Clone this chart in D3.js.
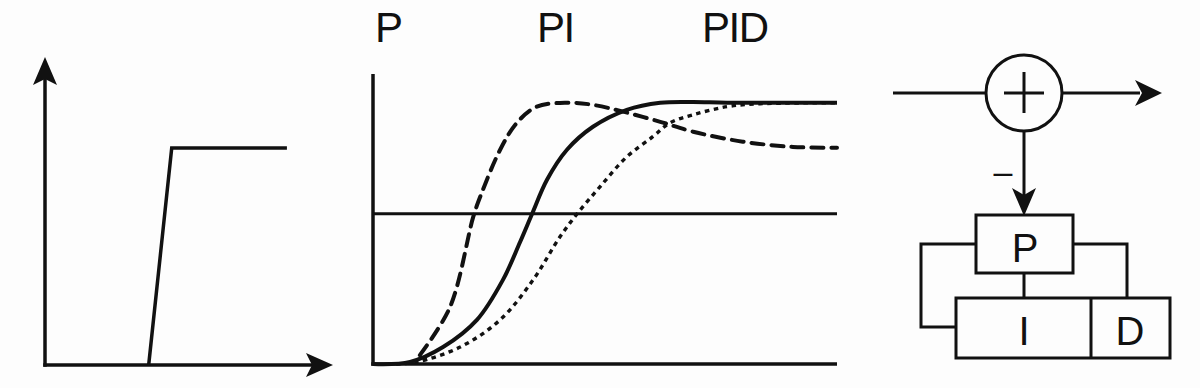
<!DOCTYPE html>
<html><head><meta charset="utf-8">
<script src="https://cdn.jsdelivr.net/npm/d3@7"></script>
<style>html,body{margin:0;padding:0;background:#fdfdfd;}svg{display:block;}</style>
</head><body>
<svg id="c" width="1200" height="388"></svg>
<script>
// ---- data ----
const stepT = [3.6, 4.4, 8.4];
const stepV = [0, 1, 1];

const pT = [1.01, 1.66, 2.16, 2.31, 2.74, 3.10, 3.53, 4.18, 4.74, 5.39, 6.19, 6.90, 7.97, 9.05, 10];
const pValues = [0.034, 0.218, 0.563, 0.640, 0.820, 0.923, 0.985, 1.0, 0.992, 0.966, 0.927, 0.889, 0.851, 0.831, 0.828];

const piT = [0, 0.80, 1.51, 2.24, 2.80, 3.17, 3.43, 3.75, 4.18, 4.74, 5.47, 6.19, 6.90, 7.63, 10];
const piValues = [0, 0.008, 0.065, 0.169, 0.322, 0.467, 0.575, 0.705, 0.820, 0.908, 0.973, 1.0, 1.003, 1.0, 1.0];

const pidT = [0.5, 0.95, 1.88, 2.74, 3.45, 4.03, 4.40, 4.89, 5.47, 6.03, 6.40, 6.90, 7.63, 8.34, 10];
const pidValues = [0, 0.008, 0.065, 0.169, 0.322, 0.487, 0.575, 0.678, 0.793, 0.870, 0.923, 0.954, 0.985, 0.996, 1.0];

const referenceLevel = 0.575;
const seriesLabels = ["P", "PI", "PID"];
const blockLabels = ["P", "I", "D"];
const signLabel = "–";

// ---- drawing ----
const svg = d3.select("#c");
const ink = "#111";
const font = "'Liberation Sans', Arial, sans-serif";

function arrowHead(tx, ty, dir, len = 27, hw = 12, notch = 7) {
  const a = dir * Math.PI / 180;
  const ux = Math.cos(a), uy = Math.sin(a);
  const px = -uy, py = ux;
  const bx = tx - ux * len, by = ty - uy * len;
  const nx = tx - ux * (len - notch), ny = ty - uy * (len - notch);
  const p = d3.path();
  p.moveTo(tx, ty);
  p.lineTo(bx + px * hw, by + py * hw);
  p.lineTo(nx, ny);
  p.lineTo(bx - px * hw, by - py * hw);
  p.closePath();
  svg.append("path").attr("d", p.toString()).attr("fill", ink);
}

// Left panel: step input
const xL = d3.scaleLinear().domain([0, 10]).range([45, 333]);
const yL = d3.scaleLinear().domain([0, 1.42]).range([365, 57]);

const gL = svg.append("g");
gL.append("g").attr("transform", `translate(0,${yL(0)})`)
  .call(d3.axisBottom(xL).ticks(0).tickSizeOuter(0))
  .call(g => g.selectAll("text").remove())
  .call(g => g.select(".domain").attr("stroke", ink).attr("stroke-width", 3.5).attr("d", `M${xL(0) - 1.75},0H${xL(10) - 20}`));
gL.append("g").attr("transform", `translate(${xL(0)},0)`)
  .call(d3.axisLeft(yL).ticks(0).tickSizeOuter(0))
  .call(g => g.selectAll("text").remove())
  .call(g => g.select(".domain").attr("stroke", ink).attr("stroke-width", 3.5).attr("d", `M0,${yL(0) + 1.75}V${yL(1.42) + 20}`));
arrowHead(xL(10), yL(0), 0, 27, 12, 6);
arrowHead(xL(0), yL(1.42), -90, 28, 12, 6);

const lineL = d3.line().x((d, i) => xL(stepT[i])).y(d => yL(d));
gL.append("path").datum(stepV).attr("d", lineL)
  .attr("fill", "none").attr("stroke", ink).attr("stroke-width", 3.5).attr("stroke-linejoin", "miter");

// Middle panel: responses
const x = d3.scaleLinear().domain([0, 10]).range([373, 837]);
const y = d3.scaleLinear().domain([0, 1.11]).range([364, 74]);

const gM = svg.append("g");
gM.append("g").attr("transform", `translate(0,${y(0)})`)
  .call(d3.axisBottom(x).ticks(0).tickSizeOuter(0))
  .call(g => g.selectAll("text").remove())
  .call(g => g.select(".domain").attr("stroke", ink).attr("stroke-width", 3.5).attr("d", `M${x(0) - 1.75},0H${x(10)}`));
gM.append("g").attr("transform", `translate(${x(0)},0)`)
  .call(d3.axisLeft(y).ticks(0).tickSizeOuter(0))
  .call(g => g.selectAll("text").remove())
  .call(g => g.select(".domain").attr("stroke", ink).attr("stroke-width", 3.5).attr("d", `M0,${y(0) + 1.75}V${y(1.11)}`));

gM.append("line").attr("x1", x(0)).attr("x2", x(10))
  .attr("y1", y(referenceLevel)).attr("y2", y(referenceLevel))
  .attr("stroke", ink).attr("stroke-width", 2.8);

function curveLine(ts) {
  return d3.line().x((d, i) => x(ts[i])).y(d => y(d)).curve(d3.curveCatmullRom.alpha(0.5));
}
gM.append("path").datum(pidValues).attr("d", curveLine(pidT))
  .attr("fill", "none").attr("stroke", ink).attr("stroke-width", 3.4).attr("stroke-dasharray", "4.5,4.5");
gM.append("path").datum(pValues).attr("d", curveLine(pT))
  .attr("fill", "none").attr("stroke", ink).attr("stroke-width", 4).attr("stroke-dasharray", "12,8").attr("stroke-linecap", "round");
gM.append("path").datum(piValues).attr("d", curveLine(piT))
  .attr("fill", "none").attr("stroke", ink).attr("stroke-width", 4);

const labelX = [375, 537, 702];
gM.selectAll("text.lbl").data(seriesLabels).join("text").attr("class", "lbl")
  .attr("x", (d, i) => labelX[i]).attr("y", 42)
  .attr("font-family", font).attr("font-size", 42).attr("letter-spacing", -1.5)
  .attr("fill", ink).text(d => d);

// Right panel: block diagram
const gR = svg.append("g").attr("stroke", ink).attr("stroke-width", 3).attr("fill", "none");
const cx = 1024, cy = 93, r = 38;
gR.append("circle").attr("cx", cx).attr("cy", cy).attr("r", r);
gR.append("line").attr("x1", cx - 20).attr("x2", cx + 20).attr("y1", cy).attr("y2", cy);
gR.append("line").attr("x1", cx).attr("x2", cx).attr("y1", cy - 21).attr("y2", cy + 20);
gR.append("line").attr("x1", 893).attr("x2", cx - r).attr("y1", cy).attr("y2", cy);
gR.append("line").attr("x1", cx + r).attr("x2", 1140).attr("y1", cy).attr("y2", cy);
arrowHead(1162, cy, 0, 27, 13, 7);
gR.append("line").attr("x1", cx).attr("x2", cx).attr("y1", cy + r).attr("y2", 195);
arrowHead(cx, 216, 90, 28, 12, 7);

gR.append("rect").attr("x", 976).attr("y", 215).attr("width", 97).attr("height", 58);
gR.append("rect").attr("x", 956).attr("y", 298).attr("width", 214).attr("height", 60);
gR.append("line").attr("x1", 1091).attr("x2", 1091).attr("y1", 298).attr("y2", 358);
gR.append("line").attr("x1", cx).attr("x2", cx).attr("y1", 273).attr("y2", 298);
gR.append("path").attr("d", "M976,244H921V327H956");
gR.append("path").attr("d", "M1073,244H1127V298");

const blockPos = [[1025, 262], [1024, 345], [1130, 345]];
svg.selectAll("text.blk").data(blockLabels).join("text").attr("class", "blk")
  .attr("x", (d, i) => blockPos[i][0]).attr("y", (d, i) => blockPos[i][1])
  .attr("text-anchor", "middle").attr("font-family", font).attr("font-size", 40)
  .attr("fill", ink).text(d => d);
svg.append("text").attr("x", 1003).attr("y", 183).attr("text-anchor", "middle")
  .attr("font-family", font).attr("font-size", 34).attr("fill", ink).text(signLabel);
</script>
</body></html>
